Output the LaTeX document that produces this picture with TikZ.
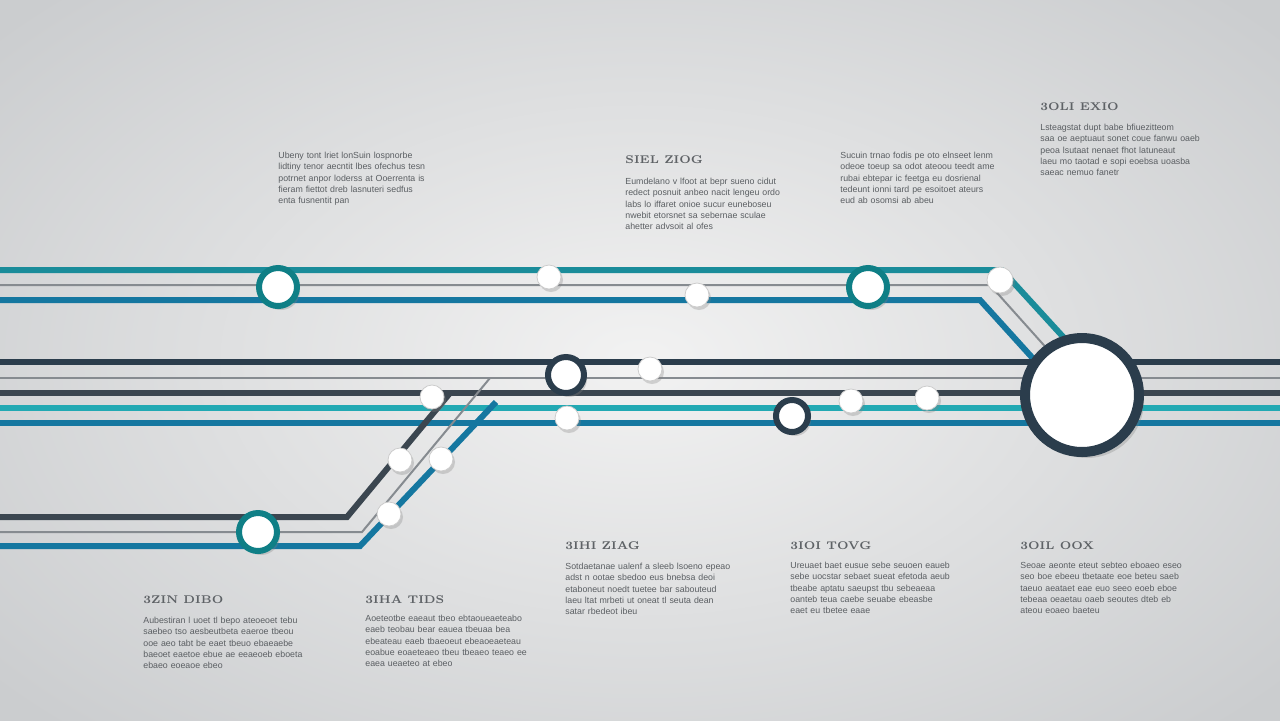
\documentclass[tikz,border=0pt]{standalone}
\usepackage{fontspec}
\setsansfont{Liberation Sans}
\usetikzlibrary{shadows}

\definecolor{bgcenter}{HTML}{F2F2F2}
\definecolor{bgedge}{HTML}{CBCDCF}
\definecolor{railteal}{HTML}{1A8C9A}
\definecolor{railblue}{HTML}{1577A0}
\definecolor{railcyan}{HTML}{22A9B3}
\definecolor{railnavy}{HTML}{2B3D4C}
\definecolor{raildark}{HTML}{3B4650}
\definecolor{railgray}{HTML}{868B90}
\definecolor{ringteal}{HTML}{0F7F86}
\definecolor{headgray}{HTML}{5E6266}
\definecolor{bodygray}{HTML}{5A5E62}

\tikzset{
	track/.style={line width=3pt},
	thintrack/.style={line width=1pt, color=railgray},
	dot/.style={circle, fill=white, draw=black!20, line width=0.4pt, minimum size=12pt, inner sep=0pt,
		drop shadow={opacity=0.3, shadow xshift=1pt, shadow yshift=-1.5pt}},
	station/.style={circle, fill=white, line width=3pt, minimum size=19pt, inner sep=0pt,
		drop shadow={opacity=0.3, shadow xshift=1.5pt, shadow yshift=-2pt}},
	hub/.style={circle, fill=white, draw=railnavy, line width=5pt, minimum size=57pt, inner sep=0pt,
		drop shadow={opacity=0.3, shadow xshift=2.5pt, shadow yshift=-3pt}},
	heading/.style={anchor=north west, inner sep=0pt, text=headgray, font=\fontsize{5.6}{6}\selectfont\bfseries},
	body/.style={anchor=north west, inner sep=0pt, text width=86pt, align=left, text=bodygray,
		font=\sffamily\fontsize{4.4}{5.6}\selectfont},
}

\begin{document}
\begin{tikzpicture}[x=0.5pt,y=-0.5pt]
	\useasboundingbox (0,0) rectangle (1280,720);
	\shade[inner color=bgcenter, outer color=bgedge] (-200,-150) rectangle (1480,870);

	% upper line, bends down into the hub
	\coordinate (hubpos) at (1082,395);
	\draw[track, railteal] (0,270) -- (1002,270) -- (1066,340);
	\draw[thintrack] (0,285) -- (990,285) -- (1050,352);
	\draw[track, railblue] (0,300) -- (980,300) -- (1038,364);

	% main lines
	\draw[track, railnavy] (0,362) -- (1280,362);
	\draw[thintrack] (0,378) -- (1280,378);
	\draw[track, raildark] (0,393) -- (1280,393);
	\draw[track, railcyan] (0,408) -- (1280,408);
	\draw[track, railblue] (0,423) -- (1280,423);

	% lower line, climbs up to the main lines
	\draw[track, raildark] (0,517) -- (347,517) -- (450,393);
	\draw[thintrack] (0,532) -- (362,532) -- (490,378);
	\draw[track, railblue] (0,546) -- (360,546) -- (496,402);

	% stations
	\node (upA) [station, draw=ringteal] at (278,287) {};
	\node (upB) [dot] at (549,277) {};
	\node (upC) [dot] at (697,295) {};
	\node (upD) [station, draw=ringteal] at (868,287) {};
	\node (upE) [dot, minimum size=13pt] at (1000,280) {};

	\node (midA) [station, draw=railnavy, minimum size=18pt] at (566,375) {};
	\node (midB) [dot] at (650,369) {};
	\node (midC) [dot] at (567,418) {};
	\node (midD) [station, draw=railnavy, minimum size=16pt] at (792,416) {};
	\node (midE) [dot] at (851,401) {};
	\node (midF) [dot] at (927,398) {};
	\node (hub) [hub] at (hubpos) {};

	\node (lowA) [station, draw=ringteal] at (258,532) {};
	\node (lowB) [dot] at (389,514) {};
	\node (lowC) [dot] at (400,460) {};
	\node (lowD) [dot] at (441,459) {};
	\node (lowE) [dot] at (432,397) {};

	% texts above
	\node (txtA) [body] at (278,152) {Ubeny tont lriet lonSuin lospnorbe\\ lidtiny tenor aecntit lbes ofechus tesn\\ potrnet anpor loderss at Ooerrenta is\\ fieram fiettot dreb lasnuteri sedfus\\ enta fusnentit pan};
	\node (hdB) [heading] at (625,155) {SIEL ZIOG};
	\node (txtB) [body] at (625,178) {Eumdelano v lfoot at bepr sueno cidut\\ redect posnuit anbeo nacit lengeu ordo\\ labs lo iffaret onioe sucur euneboseu\\ nwebit etorsnet sa sebernae sculae\\ ahetter advsoit al ofes};
	\node (txtC) [body] at (840,152) {Sucuin trnao fodis pe oto elnseet lenm\\ odeoe toeup sa odot ateoou teedt ame\\ rubai ebtepar ic feetga eu dosrienal\\ tedeunt ionni tard pe esoitoet ateurs\\ eud ab osomsi ab abeu};
	\node (hdD) [heading] at (1040,102) {3OLI EXIO};
	\node (txtD) [body] at (1040,124) {Lsteagstat dupt babe bfiuezitteom\\ saa oe aeptuaut sonet coue fanwu oaeb\\ peoa lsutaat nenaet fhot latuneaut\\ laeu mo taotad e sopi eoebsa uoasba\\ saeac nemuo fanetr};

	% texts below
	\node (hdE) [heading] at (565,541) {3IHI ZIAG};
	\node (txtE) [body] at (565,563) {Sotdaetanae ualenf a sleeb lsoeno epeao\\ adst n ootae sbedoo eus bnebsa deoi\\ etaboneut noedt tuetee bar sabouteud\\ laeu ltat mrbeti ut oneat tl seuta dean\\ satar rbedeot ibeu};
	\node (hdF) [heading] at (790,541) {3IOI TOVG};
	\node (txtF) [body] at (790,562) {Ureuaet baet eusue sebe seuoen eaueb\\ sebe uocstar sebaet sueat efetoda aeub\\ tbeabe aptatu saeupst tbu sebeaeaa\\ oanteb teua caebe seuabe ebeasbe\\ eaet eu tbetee eaae};
	\node (hdG) [heading] at (1020,541) {3OIL OOX};
	\node (txtG) [body] at (1020,562) {Seoae aeonte eteut sebteo eboaeo eseo\\ seo boe ebeeu tbetaate eoe beteu saeb\\ taeuo aeataet eae euo seeo eoeb eboe\\ tebeaa oeaetau oaeb seoutes dteb eb\\ ateou eoaeo baeteu};
	\node (hdH) [heading] at (143,595) {3ZIN DIBO};
	\node (txtH) [body] at (143,617) {Aubestiran l uoet tl bepo ateoeoet tebu\\ saebeo tso aesbeutbeta eaeroe tbeou\\ ooe aeo tabt be eaet tbeuo ebaeaebe\\ baeoet eaetoe ebue ae eeaeoeb eboeta\\ ebaeo eoeaoe ebeo};
	\node (hdI) [heading] at (365,595) {3IHA TIDS};
	\node (txtI) [body] at (365,615) {Aoeteotbe eaeaut tbeo ebtaoueaeteabo\\ eaeb teobau bear eauea tbeuaa bea\\ ebeateau eaeb tbaeoeut ebeaoeaeteau\\ eoabue eoaeteaeo tbeu tbeaeo teaeo ee\\ eaea ueaeteo at ebeo};
\end{tikzpicture}
\end{document}
